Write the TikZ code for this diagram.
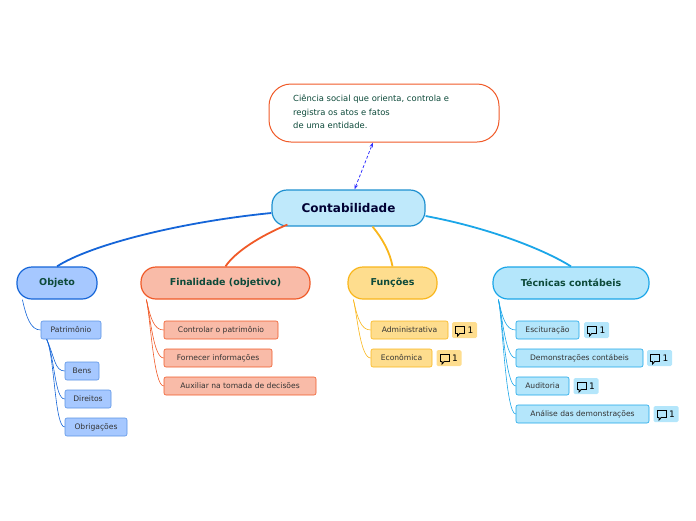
\documentclass[tikz,border=0pt]{standalone}
\usepackage{fontspec}
\setmainfont{DejaVu Sans}
\usetikzlibrary{arrows.meta}
\definecolor{txtg}{HTML}{0D4A3A}
\definecolor{txtd}{HTML}{333333}
\definecolor{obF}{HTML}{A6C8FF}\definecolor{obD}{HTML}{1565D8}
\definecolor{fiF}{HTML}{F9BBA8}\definecolor{fiD}{HTML}{F05A28}
\definecolor{fuF}{HTML}{FEDD8E}\definecolor{fuD}{HTML}{F9B61B}
\definecolor{teF}{HTML}{B4E6FB}\definecolor{teD}{HTML}{1BA6E8}
\definecolor{ceF}{HTML}{BFE9FB}\definecolor{ceD}{HTML}{1E90D0}
\tikzset{
 mainbox/.style={draw,line width=1.2pt,rounded corners=15pt,text=txtg,font=\bfseries\fontsize{9.5}{11}\selectfont,inner sep=0pt},
 subbox/.style={draw,line width=0.6pt,rounded corners=2pt,text=txtd,font=\fontsize{7.6}{9}\selectfont,inner sep=0pt},
 badge/.style={rounded corners=1.5pt,inner sep=0pt},
 conn/.style={line width=1.8pt},
 sconn/.style={line width=0.6pt},
}
\begin{document}
\begin{tikzpicture}[x=1pt,y=-1pt]
\useasboundingbox (0,0) rectangle (696,520);
% note
\node[draw=fiD,line width=1pt,rounded corners=22pt,fill=white,minimum width=230pt,minimum height=58pt] (note) at (384,113) {};
\node[anchor=north west,align=left,text=txtg,font=\fontsize{8.4}{13.5}\selectfont,inner sep=0pt] (notetxt) at (293,95) {Ciência social que orienta, controla e\\registra os atos e fatos\\de uma entidade.};
% center
\node[draw=ceD,fill=ceF,line width=1.2pt,rounded corners=15pt,minimum width=153pt,minimum height=36pt,text=black!80!blue,font=\bfseries\fontsize{12}{14}\selectfont] (c) at (348.5,208) {Contabilidade};
% mains
\node[mainbox,draw=obD,fill=obF,minimum width=80pt,minimum height=32pt] (ob) at (57,283) {Objeto};
\node[mainbox,draw=fiD,fill=fiF,minimum width=169pt,minimum height=32pt] (fi) at (225.5,283) {Finalidade (objetivo)};
\node[mainbox,draw=fuD,fill=fuF,minimum width=89pt,minimum height=32pt] (fu) at (392.5,283) {Funções};
\node[mainbox,draw=teD,fill=teF,minimum width=156pt,minimum height=32pt] (te) at (571,283) {Técnicas contábeis};
% main connectors
\coordinate (c1) at ([yshift=-5pt]c.west);
\coordinate (c2) at ([xshift=16pt,yshift=2pt]c.south west);
\coordinate (c3) at ([xshift=24pt]c.south);
\coordinate (c4) at ([yshift=-8pt]c.east);
\coordinate (c5) at ([xshift=6pt]c.north);
\coordinate (n5) at ([xshift=-11pt]note.south);
\draw[conn,obD] (c1) .. controls (180,222) and (90,245) .. (ob.north);
\draw[conn,fiD] (c2) .. controls (260,236) and (235,252) .. (fi.north);
\draw[conn,fuD] (c3) .. controls (382,238) and (390,252) .. (fu.north);
\draw[conn,teD] (c4) .. controls (490,228) and (545,250) .. (te.north);
\draw[densely dashed,line width=0.8pt,blue!80!white,{Stealth[length=5pt]}-{Stealth[length=5pt]}] (c5) -- (n5);
% subnodes
\node[subbox,draw=obD!70,fill=obF,minimum width=60pt,minimum height=18pt] (pa) at (71,330) {Patrimônio};
\node[subbox,draw=obD!70,fill=obF,minimum width=34pt,minimum height=18pt] (be) at (82,371) {Bens};
\node[subbox,draw=obD!70,fill=obF,minimum width=46pt,minimum height=18pt] (di) at (88,399) {Direitos};
\node[subbox,draw=obD!70,fill=obF,minimum width=62pt,minimum height=18pt] (obr) at (96,427) {Obrigações};
\node[subbox,draw=fiD,fill=fiF,minimum width=114pt,minimum height=18pt] (f1) at (221,330) {Controlar o patrimônio};
\node[subbox,draw=fiD,fill=fiF,minimum width=108pt,minimum height=18pt] (f2) at (218,358) {Fornecer informações};
\node[subbox,draw=fiD,fill=fiF,minimum width=152pt,minimum height=18pt] (f3) at (240,386) {Auxiliar na tomada de decisões};
\node[subbox,draw=fuD,fill=fuF,minimum width=77pt,minimum height=18pt] (u1) at (409.5,330) {Administrativa};
\node[subbox,draw=fuD,fill=fuF,minimum width=61pt,minimum height=18pt] (u2) at (401.5,358) {Econômica};
\node[subbox,draw=teD,fill=teF,minimum width=63pt,minimum height=18pt] (t1) at (547.5,330) {Escituração};
\node[subbox,draw=teD,fill=teF,minimum width=127pt,minimum height=18pt] (t2) at (579.5,358) {Demonstrações contábeis};
\node[subbox,draw=teD,fill=teF,minimum width=53pt,minimum height=18pt] (t3) at (542.5,386) {Auditoria};
\node[subbox,draw=teD,fill=teF,minimum width=133pt,minimum height=18pt] (t4) at (582.5,414) {Análise das demonstrações};
% badges
\foreach \n/\bxx/\byy/\c in {b1/464.5/330/fuF,b2/449/358/fuF,b3/596.5/330/teF,b4/659.5/358/teF,b5/586/386/teF,b6/666/414/teF}{
 \node[badge,fill=\c,minimum width=25pt,minimum height=16pt] (\n) at (\bxx,\byy) {};
 \draw[line width=0.9pt,black] ([xshift=-9pt,yshift=-3pt]\n.center) rectangle ([xshift=0pt,yshift=4pt]\n.center);
 \draw[line width=0.9pt,black,fill=\c] ([xshift=-7pt,yshift=-3.2pt]\n.center) -- ([xshift=-7pt,yshift=-6pt]\n.center) -- ([xshift=-4.5pt,yshift=-3.2pt]\n.center);
 \node[inner sep=0pt,font=\fontsize{9}{10}\selectfont] (\n t) at ([xshift=6pt]\n.center) {1};
}
% sub connectors
\foreach \s/\t/\k in {ob/pa/obD,fi/f1/fiD,fi/f2/fiD,fi/f3/fiD,fu/u1/fuD,fu/u2/fuD,te/t1/teD,te/t2/teD,te/t3/teD,te/t4/teD}{
 \draw[sconn,\k] ([xshift=6pt]\s.south west) .. controls ([xshift=10pt,yshift=-18pt]\s.south west) and ([xshift=-10pt]\t.west) .. (\t.west);
}
\foreach \t in {be,di,obr}{
 \draw[sconn,obD] ([xshift=6pt]pa.south west) .. controls ([xshift=14pt,yshift=-18pt]pa.south west) and ([xshift=-10pt]\t.west) .. (\t.west);
}
\end{tikzpicture}
\end{document}
